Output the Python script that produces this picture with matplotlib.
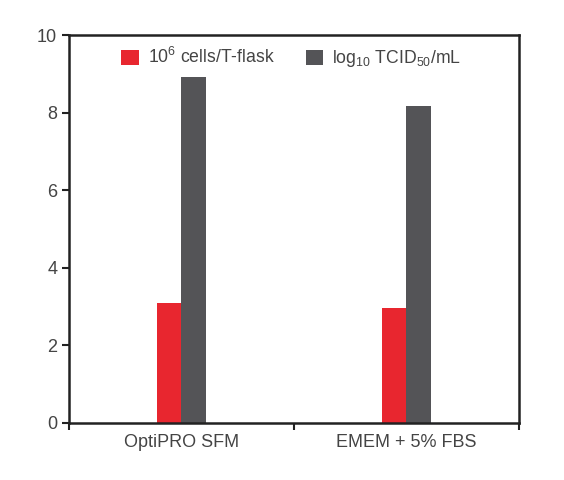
import matplotlib
matplotlib.use("Agg")
import matplotlib.pyplot as plt
import numpy as np

categories = ["OptiPRO SFM", "EMEM + 5% FBS"]
cells = [3.08, 2.97]
tcid = [8.93, 8.16]
series_labels = [r"10$^6$ cells/T-flask", r"log$_{10}$ TCID$_{50}$/mL"]
yticks = [0, 2, 4, 6, 8, 10]

plt.rcParams["font.family"] = ["Liberation Sans", "DejaVu Sans"]
plt.rcParams["mathtext.default"] = "regular"
text_color = "#444444"

fig = plt.figure(figsize=(5.64, 4.8), dpi=100)
ax = fig.add_axes([0.1223, 0.1188, 0.7979, 0.8082])

centers = np.arange(len(categories)) + 0.5
w = 0.108
ax.bar(centers - w / 2, cells, width=w, color="#E8262F", label=series_labels[0])
ax.bar(centers + w / 2, tcid, width=w, color="#545457", label=series_labels[1])

ax.set_xlim(0, len(categories))
ax.set_ylim(0, 10)
ax.set_yticks(yticks)
ax.set_xticks(np.arange(len(categories) + 1))
ax.set_xticklabels([])
ax.set_xticks(centers, minor=True)
ax.set_xticklabels(categories, minor=True)
ax.tick_params(axis="x", which="minor", length=0, pad=8)
ax.tick_params(axis="both", which="major", direction="out", length=5, width=1.5,
               colors="#222222", labelcolor=text_color, labelsize=13)
ax.tick_params(axis="x", which="minor", labelcolor=text_color, labelsize=13)
for s in ax.spines.values():
    s.set_linewidth(1.8)
    s.set_color("#222222")

leg = ax.legend(loc="upper center", ncol=2, frameon=False, fontsize=12.7,
                handlelength=1.0, handleheight=1.0, columnspacing=1.75,
                handletextpad=0.5, bbox_to_anchor=(0.494, 1.0), borderaxespad=0.3)
for t in leg.get_texts():
    t.set_color(text_color)

fig.savefig("out.png", dpi=100)
